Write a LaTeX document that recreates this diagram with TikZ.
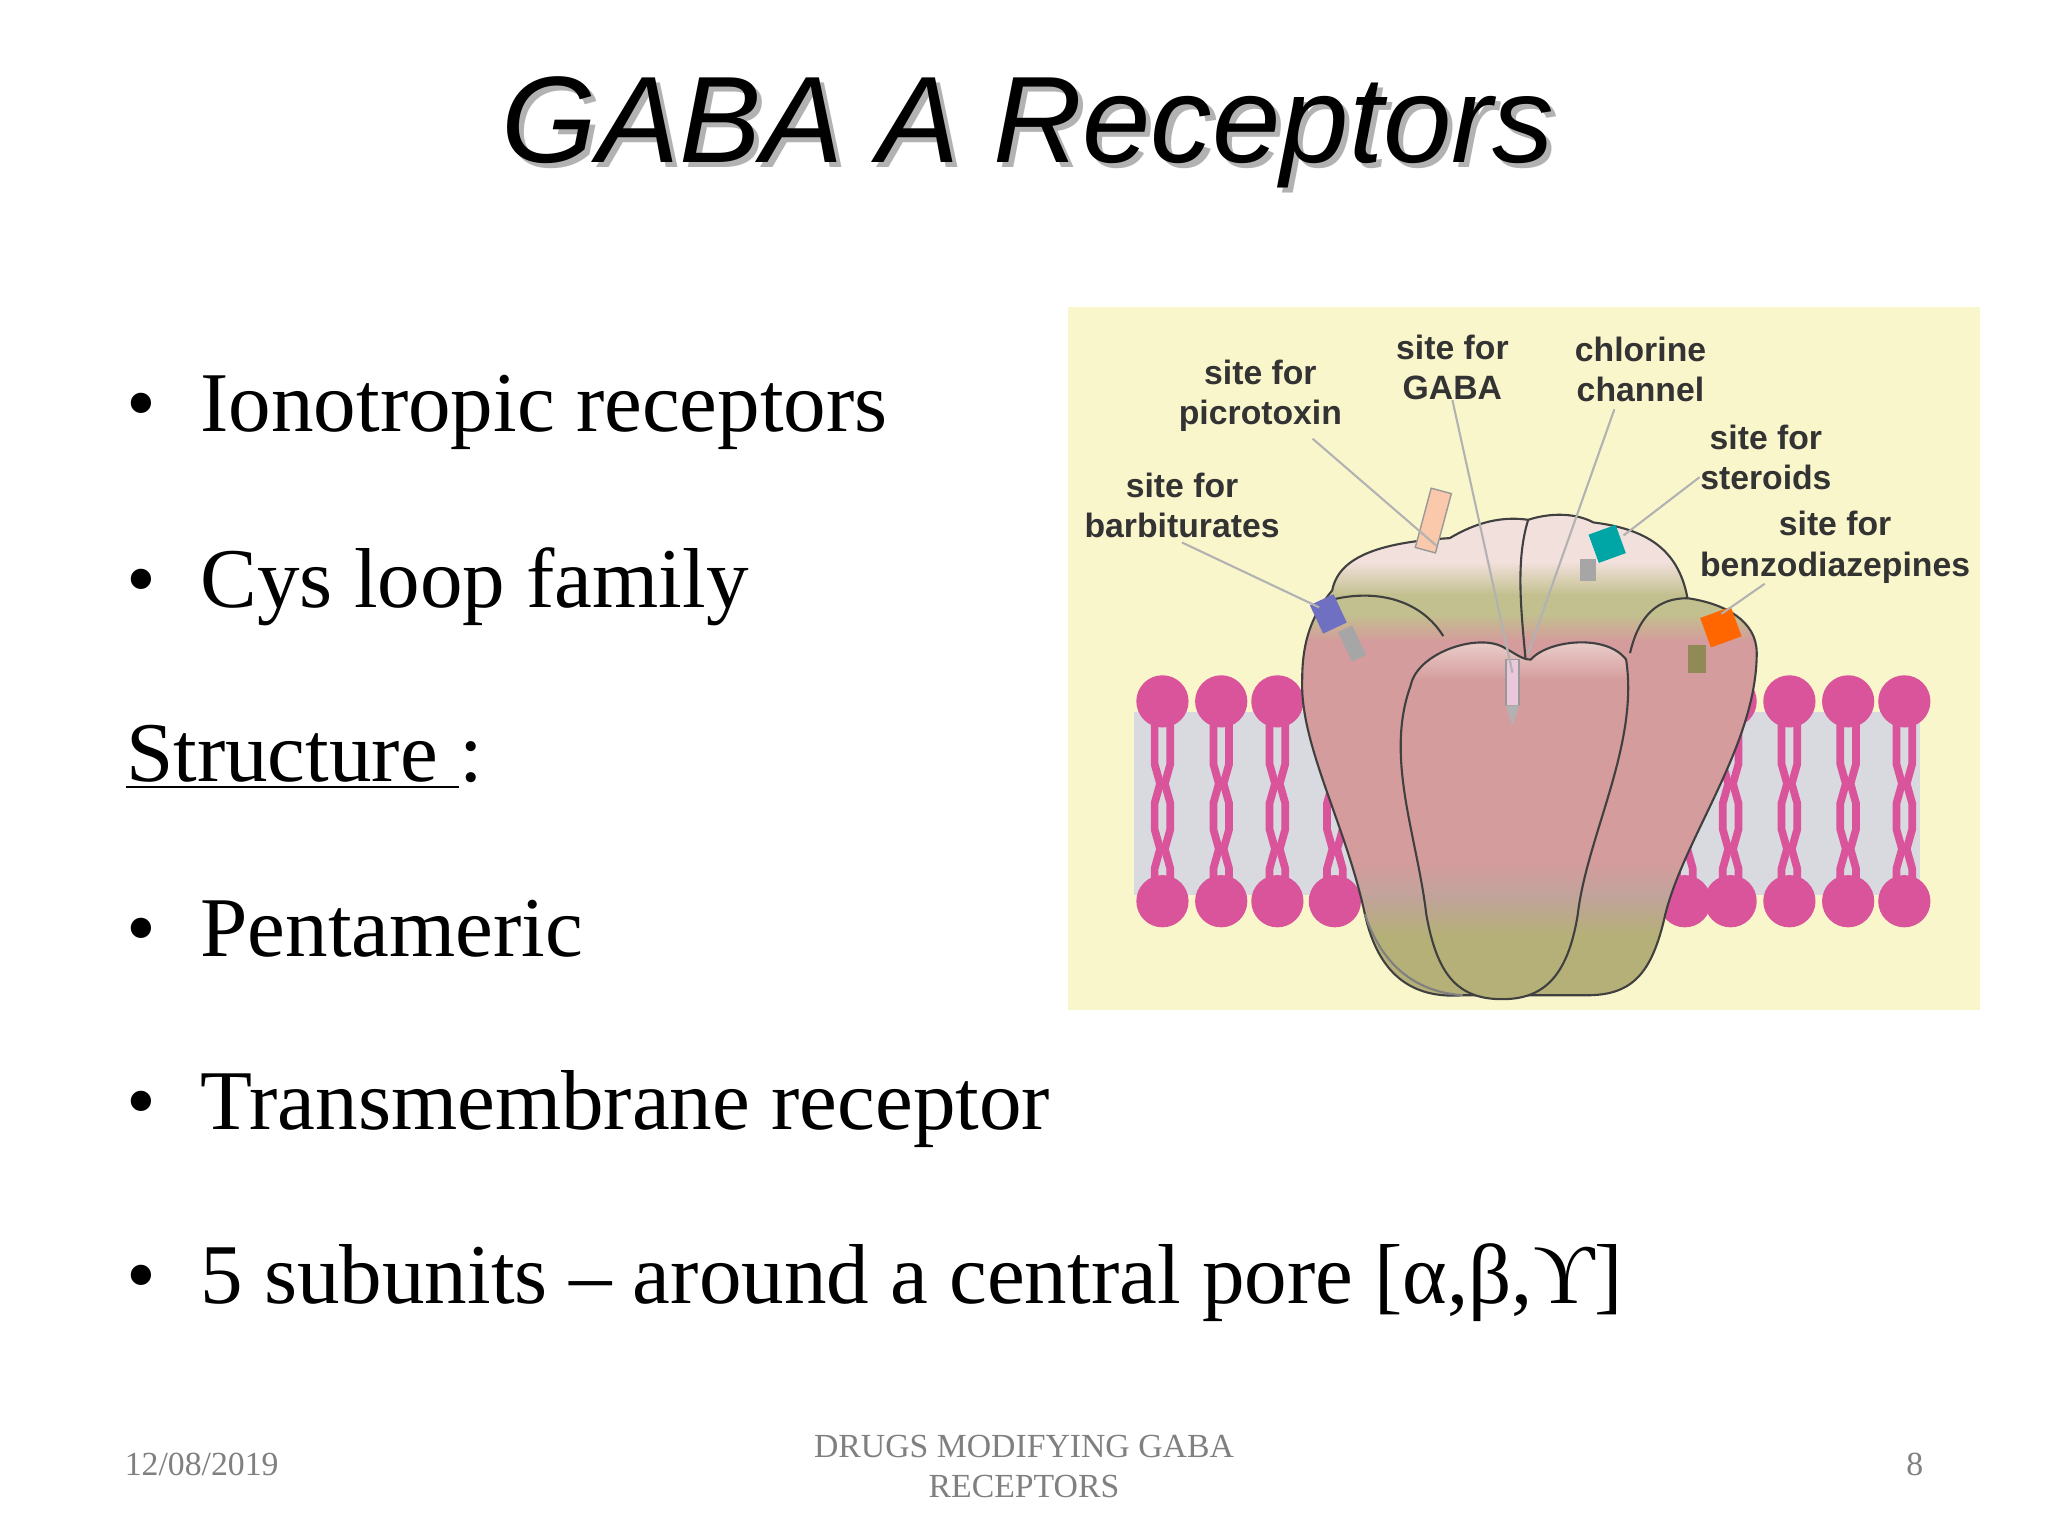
\documentclass[tikz,border=0pt]{standalone}
\usepackage{fontspec}
\setmainfont{Liberation Serif}
\newfontfamily\arialf{Liberation Sans}
\definecolor{panel}{HTML}{FAF6CC}
\definecolor{lipid}{HTML}{D9549A}
\definecolor{band}{HTML}{D8DADF}
\definecolor{rpink}{HTML}{D49C9C}
\definecolor{rolive}{HTML}{B5B078}
\definecolor{rgray}{HTML}{C2A39C}
\definecolor{rgreen}{HTML}{C2C08E}
\definecolor{rlight}{HTML}{F2E0DC}
\definecolor{lbl}{HTML}{333333}
\def\backpath{(1020,452) .. controls (1025,425) and (1060,415) .. (1110,412) .. controls (1130,400) and (1150,395) .. (1170,398) .. controls (1185,393) and (1205,392) .. (1220,400) .. controls (1260,405) and (1285,420) .. (1292,458)
  .. controls (1320,462) and (1345,475) .. (1345,500) .. controls (1345,570) and (1290,640) .. (1275,700) .. controls (1265,745) and (1250,762) .. (1215,762)
  -- (1120,762) .. controls (1080,765) and (1055,745) .. (1045,700) .. controls (1030,630) and (995,570) .. (997,520) .. controls (997,490) and (1005,470) .. (1020,452) -- cycle}
\def\frontpath{(1080,525) .. controls (1085,500) and (1130,485) .. (1150,495) .. controls (1160,500) and (1165,505) .. (1172,505) .. controls (1185,490) and (1230,485) .. (1245,505) .. controls (1255,570) and (1215,640) .. (1208,700) .. controls (1200,750) and (1180,765) .. (1150,765) .. controls (1115,765) and (1100,745) .. (1092,700) .. controls (1085,640) and (1060,580) .. (1080,525) -- cycle}
\tikzset{
 lab/.style={font=\arialf\bfseries\fontsize{9.6}{11.4}\selectfont, text=lbl, align=center, inner sep=0},
 lead/.style={draw=gray!60, line width=0.6pt},
 bul/.style={font=\fontsize{24.2}{28}\selectfont, anchor=base west, inner sep=0},
 foot/.style={font=\fontsize{9.6}{11.5}\selectfont, text=gray, align=center, inner sep=0},
 edge/.style={draw=black!75, line width=0.6pt},
 vsh/.style 2 args={top color=#1, bottom color=#2},
}
\newcommand\lowbands{%
  \fill[rpink] (980,490) rectangle (1360,661);
  \shade[vsh={rpink}{rgray}] (980,660) rectangle (1360,686);
  \shade[vsh={rgray}{rolive}] (980,685) rectangle (1360,716);
  \fill[rolive] (980,715) rectangle (1360,780);}
\begin{document}
\begin{tikzpicture}[x=0.013061cm,y=-0.013061cm]
\useasboundingbox (0,0) rectangle (1568,1176);
\fill[white] (0,0) rectangle (1568,1176);
% title
\node[font=\arialf\itshape\fontsize{35}{40}\selectfont, text=gray!60] at (791,105) {GABA A Receptors};
\node (title) [font=\arialf\itshape\fontsize{35}{40}\selectfont] at (787,101) {GABA A Receptors};
% bullets
\foreach \y/\t [count=\i] in {330/Ionotropic receptors,465/Cys loop family,732/Pentameric,865/Transmembrane receptor}{
  \node[bul] (b\i) at (96,\y) {•};
  \node[bul] (t\i) at (153,\y) {\t};
}
\node[bul] (st) at (96,598) {\underline{Structure }:};
\node[bul] (b5) at (96,998) {•};
\node[bul] (t5) at (153,998) {5 subunits – around a central pore [α,β,ϒ]};
% footer
\node[foot, anchor=base west] (date) at (95,1130) {12/08/2019};
\node[foot] (ftitle) at (784,1123) {DRUGS MODIFYING GABA\\RECEPTORS};
\node[foot, anchor=base east] (pg) at (1473,1130) {8};
% panel
\fill[panel] (818,235) rectangle (1516,773);
% membrane
\fill[band] (868,545) rectangle (1470,685);
\foreach \x in {890,935,978,1022,1070,1290,1325,1370,1415,1458}{
  \foreach \d in {-6,6}{
    \draw[lipid, line width=2.2pt] (\x+\d,550) -- (\x+\d,585) -- (\x+\d*0.3,600) -- (\x+\d,615) -- (\x+\d,635) -- (\x+\d*0.3,650) -- (\x+\d,665) -- (\x+\d,680);
  }
  \fill[lipid] (\x,537) circle (20);
  \fill[lipid] (\x,690) circle (20);
}
% receptor back body
\begin{scope}
  \clip \backpath;
  \fill[rlight] (980,380) rectangle (1360,431);
  \shade[vsh={rlight}{rgreen}] (980,430) rectangle (1360,456);
  \fill[rgreen] (980,455) rectangle (1360,471);
  \shade[vsh={rgreen}{rpink}] (980,470) rectangle (1360,491);
  \lowbands
\end{scope}
\draw[edge] \backpath;
\draw[edge] (1010,462) .. controls (1045,450) and (1085,455) .. (1105,487);
\draw[edge] (1292,458) .. controls (1270,458) and (1255,470) .. (1248,500);
\draw[edge] (1170,398) .. controls (1160,430) and (1165,470) .. (1168,505);
\draw[edge, draw=black!50] (1045,700) .. controls (1060,745) and (1090,760) .. (1120,762);
% front subunit
\begin{scope}
  \clip \frontpath;
  \lowbands
  \shade[vsh={rlight}{rpink}] (980,480) rectangle (1360,521);
\end{scope}
\draw[edge] \frontpath;
% sites
\coordinate (picS) at (1100,418);
\fill[fill={rgb,255:red,250;green,200;blue,170}, draw=black!40, rotate around={-15:(1097,400)}] (1089,375) rectangle (1105,422);
\fill[blue!40!gray!80] [rotate around={25:(1017,470)}] (1007,458) rectangle (1027,482);
\fill[gray!70] [rotate around={25:(1035,490)}] (1028,480) rectangle (1040,505);
\coordinate (barS) at (1010,465);
\fill[pink!60!violet!40, draw=black!40] (1153,505) rectangle (1163,540);
\fill[gray!60] (1153,540) -- (1163,540) -- (1158,556) -- cycle;
\coordinate (gabS) at (1158,515);
\coordinate (chlS) at (1170,500);
\fill[teal!70!cyan] [rotate around={20:(1230,415)}] (1219,405) rectangle (1241,428);
\fill[gray!70] (1210,428) rectangle (1222,445);
\coordinate (steS) at (1243,410);
\fill[orange!80!red] [rotate around={20:(1318,480)}] (1305,468) rectangle (1330,492);
\fill[gray!60!olive] (1292,494) rectangle (1306,515);
\coordinate (benS) at (1318,470);
% labels
\node[lab] (pic) at (965,303) {site for\\picrotoxin};
\node[lab] (gab) at (1112,281) {site for\\GABA};
\node[lab] (chl) at (1256,283) {chlorine\\channel};
\node[lab] (ste) at (1352,350) {site for\\steroids};
\node[lab] (bar) at (905,387) {site for\\barbiturates};
\node[lab] (ben) at (1405,419) {site for\\benzodiazepines};
\draw[lead] (pic.south) ++(40,5) -- (picS);
\draw[lead] (gab.south) -- (gabS);
\draw[lead] (chl.south) ++(-20,5) -- (chlS);
\draw[lead] (ste.south west) ++(0,-10) -- (steS);
\draw[lead] (bar.south) ++(0,3) -- (barS);
\draw[lead] (ben.south west) ++(50,0) -- (benS);
\end{tikzpicture}
\end{document}
